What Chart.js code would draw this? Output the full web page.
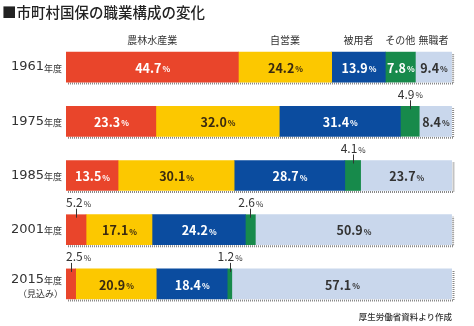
<!DOCTYPE html>
<html lang="ja">
<head>
<meta charset="utf-8">
<script src="https://cdn.jsdelivr.net/npm/chart.js@4"></script>
<style>
body { margin: 0; background: #fff; }
#wrap { position: relative; width: 474px; height: 326px; }
#title { position: absolute; left: 2px; top: 1px; font: 500 14.5px "Noto Sans CJK JP"; color: #222; white-space: nowrap; }
#source { position: absolute; right: 22px; bottom: 4px; font: 500 8.5px "Noto Sans CJK JP"; color: #333; }
</style>
</head>
<body>
<div id="wrap">
  <canvas id="jobChart" width="474" height="326"></canvas>
  <div id="title">■市町村国保の職業構成の変化</div>
  <div id="source">厚生労働省資料より作成</div>
</div>
<script>
// --- data ---
const years = ['1961', '1975', '1985', '2001', '2015'];
const yearNotes = ['', '', '', '', '（見込み）'];
const categories = ['農林水産業', '自営業', '被用者', 'その他', '無職者'];
const agri = [44.7, 23.3, 13.5, 5.2, 2.5];
const selfEmployed = [24.2, 32.0, 30.1, 17.1, 20.9];
const employed = [13.9, 31.4, 28.7, 24.2, 18.4];
const other = [7.8, 4.9, 4.1, 2.6, 1.2];
const jobless = [9.4, 8.4, 23.7, 50.9, 57.1];

const colors = ['#e9452b', '#fcc800', '#0b4c9f', '#178a4b', '#c9d7ec'];
const textColors = ['#fff', '#3a2a10', '#fff', '#fff', '#333'];
const FONT = '"Noto Sans CJK JP", sans-serif';
const NUM_FONT = '"DejaVu Sans", sans-serif';

// draws the value labels, year labels, headers and the dotted shadow
const labelPlugin = {
    id: 'labels',
    beforeDatasetsDraw(chart) {
        const ctx = chart.ctx;
        const first = chart.getDatasetMeta(0).data;
        const last = chart.getDatasetMeta(4).data;
        ctx.save();
        ctx.strokeStyle = '#888';
        ctx.lineWidth = 2;
        ctx.setLineDash([1, 1]);
        first.forEach((bar, j) => {
            const p = bar.getProps(['x', 'y', 'base', 'height'], true);
            const r = last[j].getProps(['x'], true).x;
            const top = p.y - p.height / 2;
            const bottom = p.y + p.height / 2;
            ctx.beginPath();
            ctx.moveTo(p.base + 2, bottom + 1.5);
            ctx.lineTo(r + 1.5, bottom + 1.5);
            ctx.lineTo(r + 1.5, top + 2);
            ctx.stroke();
        });
        ctx.restore();
    },
    afterDatasetsDraw(chart) {
        const ctx = chart.ctx;
        const area = chart.chartArea;
        ctx.save();
        ctx.textBaseline = 'middle';

        chart.data.datasets.forEach((ds, i) => {
            chart.getDatasetMeta(i).data.forEach((bar, j) => {
                const p = bar.getProps(['x', 'y', 'base', 'height'], true);
                const cx = (p.x + p.base) / 2;
                const top = p.y - p.height / 2;
                const value = ds.data[j].toFixed(1);

                if (ds.data[j] >= 6) {
                    ctx.font = 'bold 12.5px ' + FONT;
                    const w1 = ctx.measureText(value).width;
                    ctx.font = 'bold 8px ' + FONT;
                    const w2 = ctx.measureText('%').width;
                    const sx = cx - (w1 + w2) / 2;
                    ctx.fillStyle = textColors[i];
                    ctx.textAlign = 'left';
                    ctx.font = 'bold 12.5px ' + FONT;
                    ctx.fillText(value, sx, p.y + 1);
                    ctx.font = 'bold 8px ' + FONT;
                    ctx.fillText('%', sx + w1 + 1, p.y + 2);
                } else {
                    ctx.font = '12px ' + FONT;
                    const w1 = ctx.measureText(value).width;
                    ctx.font = '8px ' + FONT;
                    const w2 = ctx.measureText('%').width;
                    let sx = cx - (w1 + w2) / 2;
                    if (sx < area.left) sx = area.left;
                    ctx.fillStyle = '#333';
                    ctx.textAlign = 'left';
                    ctx.font = '12px ' + FONT;
                    ctx.fillText(value, sx, top - 12);
                    ctx.font = '8px ' + FONT;
                    ctx.fillText('%', sx + w1 + 1, top - 11);
                    ctx.strokeStyle = '#333';
                    ctx.lineWidth = 1;
                    ctx.beginPath();
                    ctx.moveTo(Math.round(cx) + 0.5, top - 6);
                    ctx.lineTo(Math.round(cx) + 0.5, top + 3);
                    ctx.stroke();
                }

                // category headers above the first row
                if (j === 0) {
                    ctx.fillStyle = '#333';
                    ctx.textAlign = 'center';
                    ctx.font = '10px ' + FONT;
                    ctx.fillText(categories[i], cx, top - 12);
                }
            });
        });

        // year labels on the left
        const yScale = chart.scales.y;
        years.forEach((yr, j) => {
            let y = yScale.getPixelForValue(j);
            if (yearNotes[j]) y -= 4;
            ctx.fillStyle = '#333';
            ctx.textAlign = 'right';
            ctx.font = '9px ' + FONT;
            const w = ctx.measureText('年度').width;
            ctx.fillText('年度', 62, y + 1);
            ctx.font = '13px ' + NUM_FONT;
            ctx.fillText(yr, 62 - w, y);
            if (yearNotes[j]) {
                ctx.font = '9px ' + FONT;
                ctx.fillText(yearNotes[j], 63, y + 14);
            }
        });
        ctx.restore();
    }
};

const seriesList = [agri, selfEmployed, employed, other, jobless];

new Chart(document.getElementById('jobChart'), {
    type: 'bar',
    data: {
        labels: years,
        datasets: seriesList.map((values, i) => ({
            label: categories[i],
            data: values,
            backgroundColor: colors[i],
            borderWidth: 0,
            barThickness: 30
        }))
    },
    options: {
        indexAxis: 'y',
        responsive: false,
        animation: false,
        layout: { padding: { left: 66, right: 22, top: 40, bottom: 15 } },
        scales: {
            x: { stacked: true, min: 0, max: 100.1, display: false },
            y: { stacked: true, display: false }
        },
        plugins: {
            legend: { display: false },
            tooltip: { enabled: false }
        }
    },
    plugins: [labelPlugin]
});
</script>
</body>
</html>
